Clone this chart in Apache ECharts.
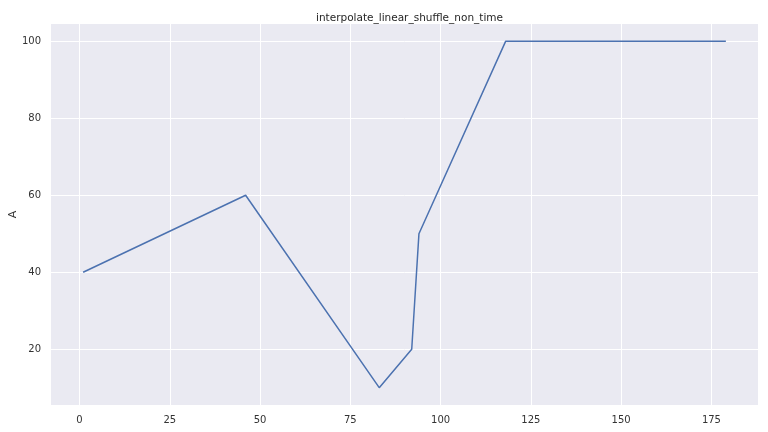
<!DOCTYPE html>
<html>
<head>
<meta charset="utf-8">
<script src="https://cdn.jsdelivr.net/npm/echarts@6/dist/echarts.min.js"></script>
<style>html,body{margin:0;padding:0;background:#fff}#c{width:768px;height:432px}</style>
</head>
<body>
<div id="c"></div>
<script>
const xValues = [1, 46, 83, 92, 94, 118, 179];
const aValues = [40, 60, 10, 20, 50, 100, 100];
const xTicks = [0, 25, 50, 75, 100, 125, 150, 175];
const yTicks = [20, 40, 60, 80, 100];
const titleText = 'interpolate_linear_shuffle_non_time';
const yName = 'A';

const xmin = -7.9, xmax = 187.9, ymin = 5.5, ymax = 104.5;
const chart = echarts.init(document.getElementById('c'), null, {renderer: 'canvas'});
const fontFam = '"DejaVu Sans", sans-serif';
chart.setOption({
  animation: false,
  backgroundColor: '#ffffff',
  title: {text: titleText, left: 311, top: 8, textStyle: {fontSize: 10.5, fontWeight: 'normal', color: '#262626', fontFamily: fontFam}},
  grid: {left: 51, right: 10, top: 24, bottom: 27, show: true, backgroundColor: '#EAEAF2', borderWidth: 0, containLabel: false, outerBoundsMode: 'none'},
  xAxis: {
    type: 'value', min: xmin, max: xmax,
    axisLine: {show: false}, axisTick: {show: false, customValues: xTicks},
    axisLabel: {customValues: xTicks, color: '#333', fontSize: 10, fontFamily: fontFam, margin: 10},
    splitLine: {show: true, lineStyle: {color: '#ffffff', width: 1}}
  },
  yAxis: {
    type: 'value', min: ymin, max: ymax, name: yName, nameLocation: 'middle', nameGap: 32, nameMoveOverlap: false,
    nameTextStyle: {color: '#333', fontSize: 11, fontFamily: fontFam},
    axisLine: {show: false}, axisTick: {show: false, customValues: yTicks},
    axisLabel: {customValues: yTicks, color: '#333', fontSize: 10, fontFamily: fontFam, margin: 10},
    splitLine: {show: true, lineStyle: {color: '#ffffff', width: 1}}
  },
  series: [{
    type: 'line', data: xValues.map((x, i) => [x, aValues[i]]),
    showSymbol: false, lineStyle: {color: '#4C72B0', width: 1.5}, itemStyle: {color: '#4C72B0'}
  }]
});
</script>
</body>
</html>
